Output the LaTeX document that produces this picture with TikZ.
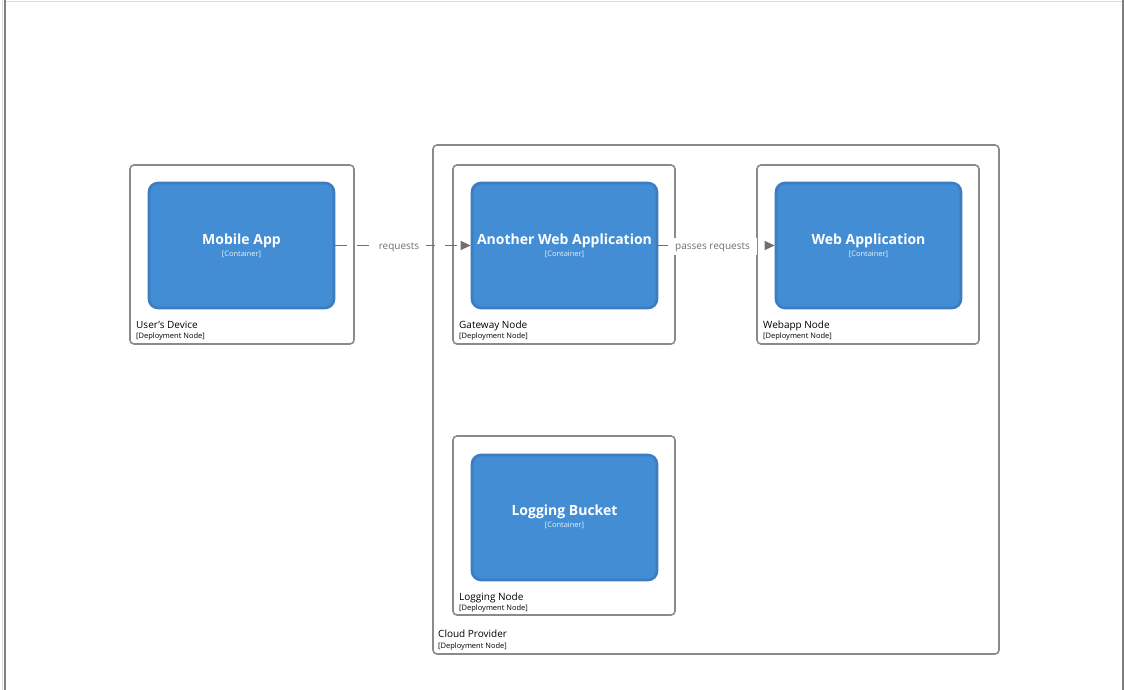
\documentclass[tikz,border=0pt]{standalone}
\usepackage{fontspec}
\setmainfont{Open Sans}
\usetikzlibrary{arrows.meta,calc}
\definecolor{contfill}{HTML}{438DD5}
\definecolor{contline}{HTML}{3A7DC0}
\definecolor{depline}{HTML}{8A8A8A}
\definecolor{relgray}{HTML}{707070}
\definecolor{framelight}{HTML}{DDDDDD}
\definecolor{framedark}{HTML}{808080}
\tikzset{
  deploy/.style={draw=depline, line width=1.6pt, rounded corners=4pt, fill=white, inner sep=0pt},
  container/.style={draw=contline, fill=contfill, line width=2.6pt, rounded corners=9pt, inner sep=0pt,
    minimum width=185pt, minimum height=125pt},
  ctitle/.style={text=white, font=\fontsize{14}{16}\selectfont\bfseries, inner sep=0pt, anchor=base},
  csub/.style={text=white!88!contfill, font=\fontsize{7.5}{9}\selectfont, inner sep=0pt, anchor=base},
  dname/.style={font=\fontsize{10}{12}\selectfont, anchor=base west, inner sep=0pt},
  dsub/.style={font=\fontsize{7.5}{9}\selectfont, anchor=base west, inner sep=0pt},
  rel/.style={draw=relgray, line width=0.9pt, dash pattern=on 12pt off 10pt, -{Triangle[length=10pt,width=9pt,fill=relgray]}},
  rlabel/.style={fill=white, text=relgray, font=\fontsize{10}{12}\selectfont, inner xsep=7pt, inner ysep=4pt,
    text height=7pt, text depth=2pt}
}
\begin{document}
\begin{tikzpicture}[x=1pt,y=-1pt]
\useasboundingbox (0,0) rectangle (1124,690);
% page frame
\draw[framelight, line width=1.6pt] (5,1.5) -- (1124,1.5);
\draw[framelight, line width=1.6pt] (2.5,0) -- (2.5,690);
\draw[framedark, line width=1.6pt] (5,0) -- (5,690);
\draw[framedark, line width=1.8pt] (1123,0) -- (1123,690);

% deployment nodes
\node[deploy, minimum width=566pt, minimum height=509pt] (cloud) at (716,399.5) {};
\node[dname] (cloudn) at (438,637) {Cloud Provider};
\node[dsub] (clouds) at (438,648) {[Deployment Node]};

\node[deploy, minimum width=224pt, minimum height=179pt] (user) at (242,254.5) {};
\node[dname] (usern) at (136,328) {User's Device};
\node[dsub] (users) at (136,338) {[Deployment Node]};

\node[deploy, minimum width=222pt, minimum height=179pt] (gw) at (564,254.5) {};
\node[dname] (gwn) at (459,328) {Gateway Node};
\node[dsub] (gws) at (459,338) {[Deployment Node]};

\node[deploy, minimum width=222pt, minimum height=179pt] (wn) at (868,254.5) {};
\node[dname] (wnn) at (763,328) {Webapp Node};
\node[dsub] (wns) at (763,338) {[Deployment Node]};

\node[deploy, minimum width=222pt, minimum height=179pt] (ln) at (564,525.5) {};
\node[dname] (lnn) at (459,600) {Logging Node};
\node[dsub] (lns) at (459,610) {[Deployment Node]};

% containers
\node[container] (mob) at (241.5,245.5) {};
\node[ctitle] (mobt) at (241.5,244) {Mobile App};
\node[csub] (mobs) at (241.5,256) {[Container]};

\node[container] (awa) at (564.5,245.5) {};
\node[ctitle] (awat) at (564.5,244) {Another Web Application};
\node[csub] (awas) at (564.5,256) {[Container]};

\node[container] (wa) at (868.5,245.5) {};
\node[ctitle] (wat) at (868.5,244) {Web Application};
\node[csub] (was) at (868.5,256) {[Container]};

\node[container] (lb) at (564.5,517.5) {};
\node[ctitle] (lbt) at (564.5,515) {Logging Bucket};
\node[csub] (lbs) at (564.5,527) {[Container]};

% relationships
\draw[rel] (mob.east) -- node[rlabel, xshift=-4pt, yshift=-1pt] (r1) {requests} (awa.west);
\draw[rel] (awa.east) -- node[rlabel, xshift=-4pt, yshift=-1pt] (r2) {passes requests} (wa.west);
\end{tikzpicture}
\end{document}
